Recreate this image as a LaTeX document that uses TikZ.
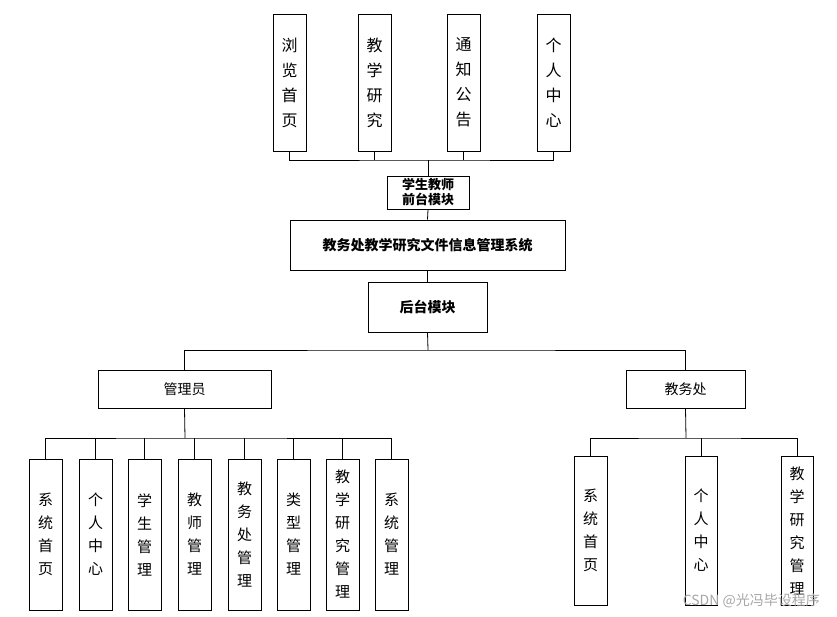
\documentclass[tikz,border=0pt]{standalone}
\usepackage{fontspec}
\setmainfont{Noto Sans CJK SC}
\begin{document}
\begin{tikzpicture}[x=1pt,y=-1pt,
  bx/.style={draw=black,line width=0.8pt,inner sep=0pt,align=center},
  vtop/.style={bx,font=\fontsize{16}{25}\selectfont,minimum width=33pt,minimum height=137pt},
  vlow/.style={bx,font=\fontsize{15}{23}\selectfont,minimum width=33pt,minimum height=151pt},
  hb/.style={bx,font=\bfseries\fontsize{14}{17}\selectfont},
  hn/.style={bx,font=\fontsize{14}{17}\selectfont},
  ln/.style={line width=0.8pt}]
\useasboundingbox (0,0) rectangle (837,616);
% top
\node[vtop] (t1) at (289.5,82.5) {浏\\览\\首\\页};
\node[vtop] (t2) at (374.5,82.5) {教\\学\\研\\究};
\node[vtop] (t3) at (463.5,82.5) {通\\知\\公\\告};
\node[vtop] (t4) at (553.5,82.5) {个\\人\\中\\心};
\node[hb,minimum width=82pt,minimum height=33pt,font=\bfseries\fontsize{13}{15}\selectfont] (qt) at (428,192.5) {学生教师\\前台模块};
\node[hb,minimum width=275pt,minimum height=50pt] (sys) at (427.5,245) {教务处教学研究文件信息管理系统};
\node[hb,minimum width=119pt,minimum height=50pt] (ht) at (427.5,307) {后台模块};
\node[hn,minimum width=173pt,minimum height=38pt] (gly) at (184.5,389) {管理员};
\node[hn,minimum width=119pt,minimum height=38pt] (jwc) at (685.5,389) {教务处};
% bottom left
\node[vlow] (a1) at (45.5,534.5) {系\\统\\首\\页};
\node[vlow] (a2) at (95.5,534.5) {个\\人\\中\\心};
\node[vlow] (a3) at (144.5,534.5) {学\\生\\管\\理};
\node[vlow] (a4) at (194.5,534.5) {教\\师\\管\\理};
\node[vlow] (a5) at (244.5,534.5) {教\\务\\处\\管\\理};
\node[vlow] (a6) at (293.5,534.5) {类\\型\\管\\理};
\node[vlow] (a7) at (342.5,534.5) {教\\学\\研\\究\\管\\理};
\node[vlow] (a8) at (391.5,534.5) {系\\统\\管\\理};
% bottom right
\node[vlow,minimum height=149pt] (b1) at (590.5,530.5) {系\\统\\首\\页};
\node[vlow,minimum width=32pt,minimum height=149pt] (b2) at (701,530.5) {个\\人\\中\\心};
\node[vlow,minimum width=32pt,minimum height=149pt,anchor=north] (b3) at (797,456) {教\\学\\研\\究\\管\\理};
% connectors
\coordinate (tbus) at (428,160);
\draw[ln] (t1.south) |- (tbus) -| (t4.south);
\draw[ln] (t2.south) -- (t2.south |- tbus);
\draw[ln] (t3.south) -- (t3.south |- tbus);
\draw[ln] (tbus) -- (qt.north);
\draw[ln] (qt.south) -- (sys.north);
\draw[ln] (sys.south) -- (ht.north);
\coordinate (mbus) at (428,350);
\draw[ln] (ht.south) -- (mbus);
\draw[ln] (gly.north) |- (mbus) -| (jwc.north);
\coordinate (lbus) at (185,438);
\draw[ln] (gly.south) -- (lbus);
\draw[ln] (a1.north) |- (lbus) -| (a8.north);
\foreach \n in {a2,a3,a4,a5,a6,a7} \draw[ln] (\n.north) -- (\n.north |- lbus);
\coordinate (rbus) at (686,438);
\draw[ln] (jwc.south) -- (rbus);
\draw[ln] (b1.north) |- (rbus) -| (b3.north);
\draw[ln] (b2.north) -- (b2.north |- rbus);
\node[anchor=south east,text=gray!70,font=\fontsize{14}{16}\selectfont,inner sep=2pt] (wm) at (822,610) {CSDN @光冯毕设程序};
\end{tikzpicture}
\end{document}
